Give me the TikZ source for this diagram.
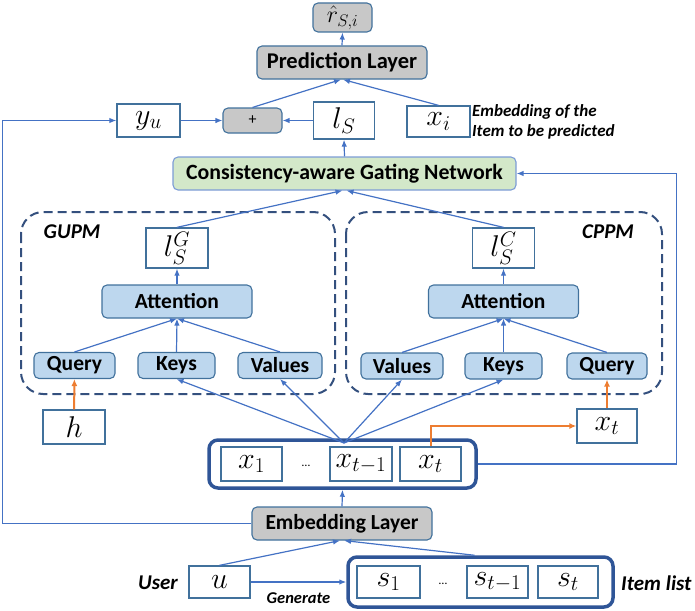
\RequirePackage{fix-cm}
\documentclass[tikz,border=0pt]{standalone}
\usepackage{amsmath}
\usepackage{fontspec}
\setmainfont{Carlito}
\usetikzlibrary{arrows.meta}

\definecolor{lineblue}{HTML}{4472C4}
\definecolor{boxedge}{HTML}{41719C}
\definecolor{fillblue}{HTML}{BDD7EE}
\definecolor{fillgray}{HTML}{C8C8C8}
\definecolor{fillgreen}{HTML}{D3E8C9}
\definecolor{darkedge}{HTML}{2F5597}
\definecolor{dashedge}{HTML}{34507E}
\definecolor{hintorange}{HTML}{ED7D31}

\tikzset{
  mathbox/.style={draw=boxedge, line width=1.3pt, fill=white, inner sep=0pt, font=\fontsize{30}{30}\selectfont},
  bluebox/.style={draw=boxedge, line width=1.1pt, fill=fillblue, rounded corners=5pt, inner sep=0pt, font=\fontsize{21.5}{21.5}\selectfont\bfseries},
  graybox/.style={draw=boxedge, line width=1.1pt, fill=fillgray, rounded corners=5pt, inner sep=0pt, font=\fontsize{21.5}{21.5}\selectfont\bfseries},
  greenbox/.style={draw=lineblue!70, line width=1.1pt, fill=fillgreen, rounded corners=5pt, inner sep=0pt, font=\fontsize{21.8}{21.8}\selectfont\bfseries},
  seqbox/.style={draw=darkedge, line width=3.5pt, rounded corners=9pt},
  module/.style={draw=dashedge, line width=2pt, dash pattern=on 9pt off 5pt, rounded corners=22pt},
  title/.style={font=\fontsize{21}{21}\selectfont\bfseries\itshape, inner sep=0pt},
  note/.style={font=\fontsize{17}{20}\selectfont\bfseries\itshape, inner sep=0pt},
  seqdots/.style={font=\fontsize{12}{12}\selectfont, inner sep=0pt},
  link/.style={draw=lineblue, line width=1.2pt, -{Latex[length=7pt,width=5.5pt]}},
  hint/.style={draw=hintorange, line width=2pt, -{Latex[length=7pt,width=6pt]}},
}

\begin{document}
\begin{tikzpicture}[x=1pt, y=-1pt]
    \useasboundingbox (0,0) rectangle (695,610);

    % output part
    \node[graybox, minimum width=59pt, minimum height=29pt, font=\fontsize{24}{24}\selectfont] (rhat) at (342.5,17.5) {$\hat{r}_{S,i}$};
    \node[graybox, minimum width=170pt, minimum height=33pt, font=\fontsize{22.5}{22.5}\selectfont\bfseries] (pred) at (342,62.5) {Prediction Layer};

    \node[mathbox, minimum width=63pt, minimum height=33pt] (yu) at (148.5,120.5) {$y_u$};
    \node[graybox, minimum width=59pt, minimum height=25pt, font=\fontsize{16}{16}\selectfont] (plus) at (252.5,120.5) {+};
    \node[mathbox, minimum width=61pt, minimum height=37pt] (ls) at (344,120.5) {$l_S$};
    \node[mathbox, minimum width=63pt, minimum height=31pt] (xi) at (438.5,121.5) {$x_i$};
    \node[note, anchor=west, align=left] (xinote) at (472,122) {Embedding of the\\Item to be predicted};

    \node[greenbox, minimum width=343pt, minimum height=33pt] (gate) at (344.5,173.5) {Consistency-aware Gating Network};

    % GUPM and CPPM
    \draw[module] (21,212) rectangle (335,394);
    \draw[module] (346,212) rectangle (662,394);
    \node[title] (gupm) at (72,232) {GUPM};
    \node[title] (cppm) at (608,232) {CPPM};

    \node[mathbox, minimum width=62pt, minimum height=40pt] (lsG) at (177,248) {$l_S^G$};
    \node[mathbox, minimum width=62pt, minimum height=40pt] (lsC) at (503.5,248) {$l_S^C$};

    \node[bluebox, minimum width=150pt, minimum height=33pt] (attL) at (177,301.5) {Attention};
    \node[bluebox, minimum width=150pt, minimum height=33pt] (attR) at (503.5,301.5) {Attention};

    \node[bluebox, minimum width=81pt, minimum height=26pt] (queryL) at (74.5,365.5) {Query};
    \node[bluebox, minimum width=77pt, minimum height=26pt] (keysL) at (176.5,365.5) {Keys};
    \node[bluebox, minimum width=84pt, minimum height=26pt] (valuesL) at (280,365.5) {Values};
    \node[bluebox, minimum width=82pt, minimum height=26pt] (valuesR) at (402,366) {Values};
    \node[bluebox, minimum width=77pt, minimum height=26pt] (keysR) at (503.5,366) {Keys};
    \node[bluebox, minimum width=80pt, minimum height=26pt] (queryR) at (607,366) {Query};

    \node[mathbox, minimum width=62pt, minimum height=34pt] (h) at (74,427) {$h$};
    \node[mathbox, minimum width=60pt, minimum height=34pt] (xtR) at (607,426) {$x_t$};

    % embedded sequence
    \node[seqbox, minimum width=267pt, minimum height=48pt] (seq) at (342.5,464) {};
    \node[mathbox, minimum width=61pt, minimum height=34pt] (x1) at (251.5,464) {$x_1$};
    \node[seqdots] (xdots) at (306,466) {…};
    \node[mathbox, minimum width=62pt, minimum height=34pt] (xtm1) at (361,464) {$x_{t-1}$};
    \node[mathbox, minimum width=61pt, minimum height=34pt] (xt) at (430.5,464) {$x_t$};
    \coordinate (fan) at (344,443);

    \node[graybox, minimum width=180pt, minimum height=33pt] (emb) at (342,523.5) {Embedding Layer};

    % input
    \node[title, anchor=east] (user) at (178,583) {User};
    \node[mathbox, minimum width=61pt, minimum height=32pt] (u) at (219.5,582) {$u$};
    \node[seqbox, minimum width=265pt, minimum height=50pt] (items) at (480.5,582) {};
    \node[mathbox, minimum width=63pt, minimum height=32pt] (s1) at (388.5,582) {$s_1$};
    \node[seqdots] (sdots) at (443,584) {…};
    \node[mathbox, minimum width=61pt, minimum height=32pt] (stm1) at (497.5,582) {$s_{t-1}$};
    \node[mathbox, minimum width=60pt, minimum height=32pt] (st) at (568,582) {$s_t$};
    \node[title, anchor=west] (itemlist) at (621,583) {Item list};

    % connectors
    \draw[link] (pred.north) -- (rhat.south);
    \draw[link] (plus.north) -- ([xshift=-1pt]pred.south);
    \draw[link] (xi.north) -- ([xshift=1pt]pred.south);
    \draw[link] (yu) -- (plus);
    \draw[link] (ls) -- (plus);
    \draw[link] (gate.north) -- (ls.south);
    \draw[link] (lsG.north) -- ([xshift=-2pt]gate.south);
    \draw[link] (lsC.north) -- ([xshift=2pt]gate.south);
    \draw[link] (attL) -- (lsG);
    \draw[link] (attR) -- (lsC);
    \draw[link] (queryL.north) -- (attL.south);
    \draw[link] (keysL.north) -- (attL.south);
    \draw[link] (valuesL.north) -- (attL.south);
    \draw[link] (valuesR.north) -- (attR.south);
    \draw[link] (keysR.north) -- (attR.south);
    \draw[link] (queryR.north) -- (attR.south);
    \draw[hint] (h) -- (queryL);
    \draw[hint] (xtR) -- (queryR);
    \draw[hint] (xt.north) |- (xtR.west);
    \draw[link] (fan) -- (keysL.south);
    \draw[link] (fan) -- (valuesL.south);
    \draw[link] (fan) -- (valuesR.south);
    \draw[link] (fan) -- (keysR.south);
    \draw[link] (seq.east) -- ++(199,0) |- (gate.east);
    \draw[link] (emb.west) -- ++(-249,0) |- (yu.west);
    \draw[link] (emb.north) -- (seq.south);
    \draw[link] (u.north) -- ([xshift=-2pt]emb.south);
    \draw[link] ([xshift=-6pt]items.north) -- ([xshift=2pt]emb.south);
    \draw[link] (u.east) -- node[note, font=\fontsize{16.5}{16.5}\selectfont\bfseries\itshape, below=10pt] (gen) {Generate} (items.west);
\end{tikzpicture}
\end{document}
